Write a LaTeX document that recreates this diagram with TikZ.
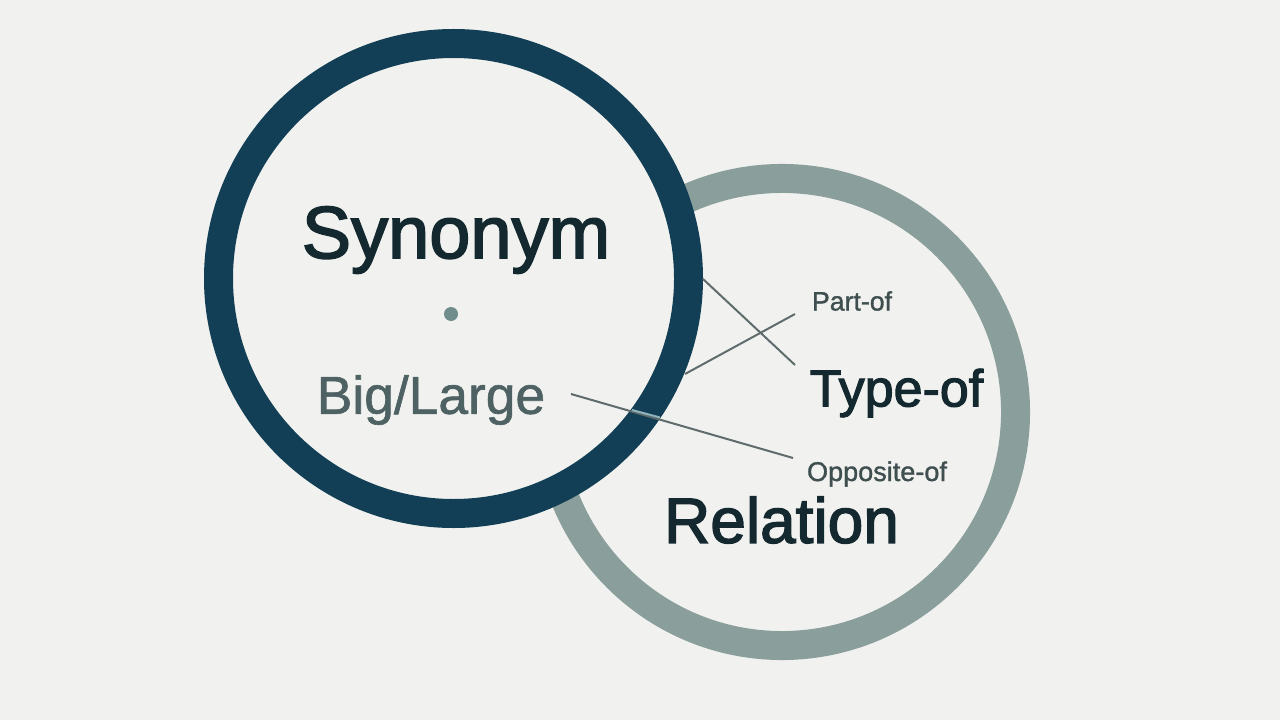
\documentclass[tikz,border=0pt]{standalone}
\usepackage{fontspec}
\setmainfont{Liberation Sans}
\newfontfamily\medfont[FakeBold=2.2]{Liberation Sans}
\newfontfamily\lightfont[FakeBold=1.2]{Liberation Sans}
\definecolor{bgc}{HTML}{F1F2EF}
\definecolor{navy}{HTML}{123F55}
\definecolor{sage}{HTML}{8A9E9C}
\definecolor{inkc}{HTML}{14282F}
\definecolor{slatec}{HTML}{4F6263}
\definecolor{linec}{HTML}{5F6B6C}
\definecolor{dotc}{HTML}{6F8E8C}
\definecolor{glint}{HTML}{8FB4BC}
\tikzset{
  ring/.style={circle,minimum size=#1,inner sep=0pt,outer sep=0pt},
  lbl/.style={inner sep=0pt,text=inkc,anchor=center},
  link/.style={draw=linec,line width=1.5pt},
}
\begin{document}
\begin{tikzpicture}[x=0.75pt,y=-0.75pt]
\useasboundingbox[fill=bgc] (0,0) rectangle (1280,720);
% rings
\node[ring=350.3pt,draw=sage,line width=21.75pt,fill=bgc] (rel) at (782,412) {};
\node[ring=352.5pt,draw=navy,line width=21.75pt,fill=bgc] (syn) at (453.5,278.5) {};
% labels
\node[lbl,font=\medfont\fontsize{55.5}{60}\selectfont] (synonym) at (456,240) {Synonym};
\node[lbl,font=\lightfont\fontsize{40}{46}\selectfont,text=slatec] (big) at (431,400) {Big/Large};
\node[lbl,font=\medfont\fontsize{39}{44}\selectfont] (type) at (896.5,393) {Type-of};
\node[lbl,font=\medfont\fontsize{48}{54}\selectfont] (relation) at (781.5,520) {Relation};
\node[lbl,font=\lightfont\fontsize{20}{24}\selectfont,text=slatec!80!black] (part) at (852,301) {Part-of};
\node[lbl,font=\lightfont\fontsize{20.3}{24}\selectfont,text=slatec!80!black] (opp) at (877,474) {Opposite-of};
\node[circle,fill=dotc,minimum size=10.5pt,inner sep=0pt] (dot) at (451,314) {};
% connector ends
\coordinate (a1) at (703,279);
\coordinate (a2) at (795,365);
\coordinate (b1) at (685,374);
\coordinate (b2) at (795,314);
\coordinate (c1) at (571,394);
\coordinate (c2) at (793,458);
\coordinate (g1) at (632,410);
\coordinate (g2) at (660,417.5);
\draw[link] (a1) -- (a2);
\draw[link] (b1) -- (b2);
\draw[link] (c1) -- (c2);
\draw[draw=glint,line width=1.5pt] (g1) -- (g2);
\end{tikzpicture}
\end{document}
